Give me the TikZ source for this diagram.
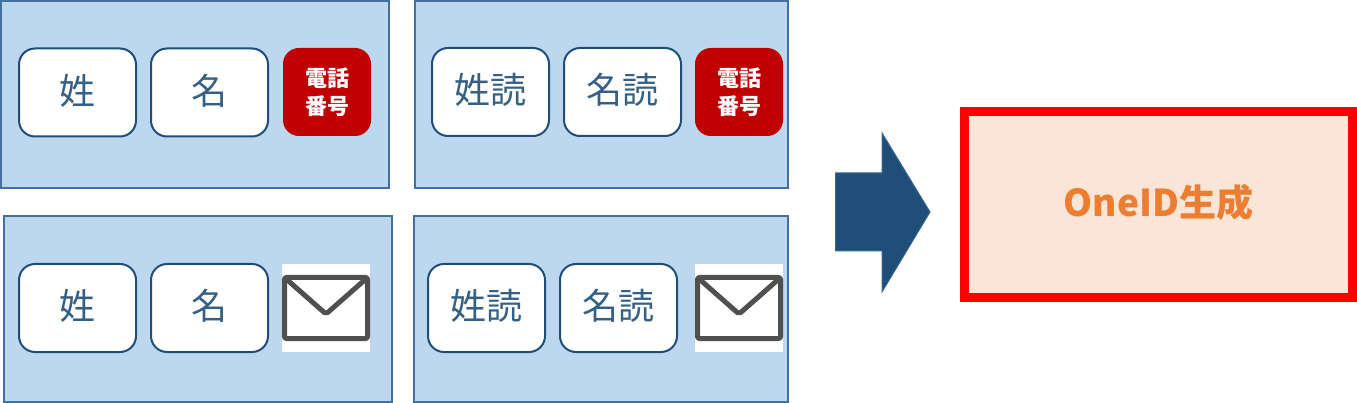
\documentclass[tikz,border=0pt]{standalone}
\usepackage{fontspec}
\setmainfont{Noto Sans CJK JP}
\usetikzlibrary{positioning}
\definecolor{panelfill}{HTML}{BDD7EE}
\definecolor{panelline}{HTML}{41719C}
\definecolor{namecolor}{HTML}{1F4E79}
\definecolor{namefill}{HTML}{C00000}
\definecolor{mailgray}{HTML}{505050}
\definecolor{resultfill}{HTML}{FBE5D6}
\definecolor{resulttext}{HTML}{ED7D31}
\tikzset{
	panel/.style={draw=panelline,fill=panelfill,line width=2pt,anchor=north west,inner sep=0pt,outer sep=0pt},
	namebox/.style={draw=namecolor,fill=white,line width=2pt,rounded corners=16pt,minimum width=117pt,minimum height=88pt,inner sep=0pt,outer sep=0pt,text=namecolor!90!white,text depth=6.5pt,font=\fontsize{36}{40}\selectfont},
	telbox/.style={fill=namefill,rounded corners=16pt,minimum width=88pt,minimum height=88pt,inner sep=0pt,outer sep=0pt,text=white,align=center,font=\fontsize{22}{28}\selectfont\bfseries},
	mailbox/.style={fill=white,minimum width=88pt,minimum height=88pt,inner sep=0pt,outer sep=0pt},
	mailline/.style={draw=mailgray,line width=5pt,line join=round,rounded corners=2pt},
}
\begin{document}
\begin{tikzpicture}[x=1pt,y=-1pt]
	\useasboundingbox (0,0) rectangle (1357,403);
	% panels
	\node[panel,minimum width=388pt,minimum height=187pt] (panelA) at (0.5,1) {};
	\node[panel,minimum width=373pt,minimum height=187pt] (panelB) at (415,1) {};
	\node[panel,minimum width=388pt,minimum height=186pt] (panelC) at (4,216) {};
	\node[panel,minimum width=374pt,minimum height=186pt] (panelD) at (414,216) {};
	% name boxes
	\node[namebox] (seiA) at (77.5,92.5) {姓};
	\node[namebox] (meiA) at (209.5,92.5) {名};
	\node[namebox] (seiB) at (490.5,92) {姓読};
	\node[namebox] (meiB) at (622.5,92) {名読};
	\node[namebox] (seiC) at (77.5,308) {姓};
	\node[namebox] (meiC) at (209.5,308) {名};
	\node[namebox] (seiD) at (486.5,308) {姓読};
	\node[namebox] (meiD) at (618.5,308) {名読};
	% phone
	\node[telbox] (telA) at (327,92) {電話\\番号};
	\node[telbox] (telB) at (739,92) {電話\\番号};
	% mail
	\foreach \name/\cx in {mailC/326,mailD/739}{
		\node[mailbox] (\name) at (\cx,308) {};
		\draw[mailline] (\cx-41.5,277.5) rectangle (\cx+41.5,338.5);
		\draw[mailline] (\cx-41.5,277.5) -- (\cx,314) -- (\cx+41.5,277.5);
	}
	% arrow
	\draw[draw=panelline!70!namecolor,fill=namecolor,line width=1pt] (835.5,173) -- (882,173) -- (882,133) -- (930,212) -- (882,292) -- (882,251) -- (835.5,251) -- cycle;
	% result
	\node[draw=red,fill=resultfill,line width=9pt,anchor=north west,minimum width=388pt,minimum height=186pt,inner sep=0pt,outer sep=0pt,text=resulttext,text depth=7.5pt,font=\fontsize{37}{40}\selectfont\bfseries] (oneid) at (964.5,111.5) {OneID生成};
\end{tikzpicture}
\end{document}
